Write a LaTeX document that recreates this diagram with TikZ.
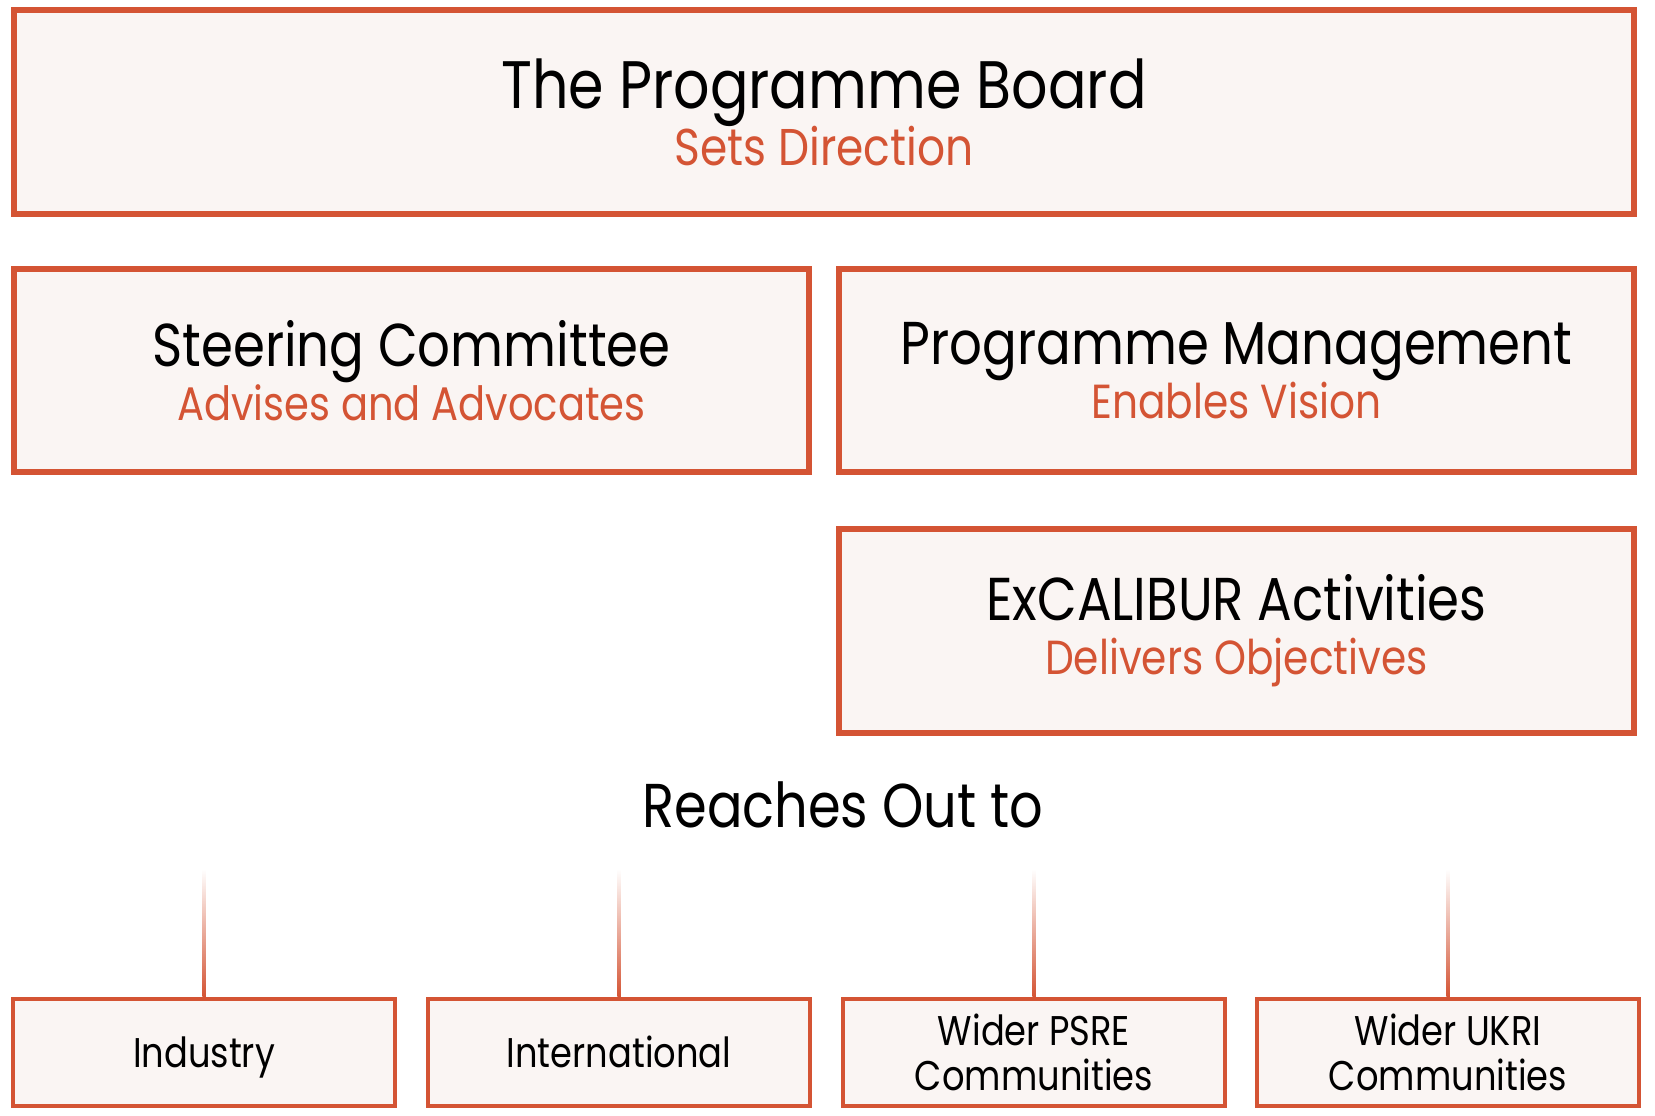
\documentclass[tikz,border=0pt]{standalone}
\usepackage{fontspec}
\setmainfont{Poppins}[FakeStretch=0.85]
\usetikzlibrary{calc}
\definecolor{accent}{RGB}{212,84,52}
\definecolor{boxfill}{RGB}{250,245,243}
\lineskiplimit=-20pt
\begin{document}
\begin{tikzpicture}[
		x=0.01cm, y=-0.01cm,
		align=center,
		bigbox/.style={draw=accent, fill=boxfill, line width=0.06cm, inner sep=0pt,
			minimum width=7.95cm, minimum height=2.03cm,
			font=\fontsize{17.2}{15.4}\selectfont},
		smallbox/.style={draw=accent, fill=boxfill, line width=0.04cm, inner sep=0pt,
			minimum width=3.82cm, minimum height=1.07cm,
			font=\fontsize{11.8}{13}\selectfont},
		oneline/.style={text height=0.85em, text depth=0pt}]
		
		\useasboundingbox (0,0) rectangle (1655,1116);
		
		% top level
		\node[bigbox, minimum width=16.2cm, minimum height=2.04cm,
			font=\fontsize{19.1}{16.2}\selectfont] (board) at (824,112)
			{The Programme Board\\{\color{accent}\fontsize{14.7}{16}\selectfont Sets Direction}};
		
		% second level
		\node[bigbox] (steering) at (411.5,370.5)
			{Steering Committee\\{\color{accent}\fontsize{13.4}{16}\selectfont Advises and Advocates}};
		\node[bigbox] (management) at (1236.5,370.5)
			{Programme Management\\{\color{accent}\fontsize{13.6}{16}\selectfont Enables Vision}};
		\node[bigbox, minimum height=2.04cm] (activities) at (1236.5,631)
			{ExCALIBUR Activities\\{\color{accent}\fontsize{13.6}{16}\selectfont Delivers Objectives}};
		
		\node[font=\fontsize{17.6}{21}\selectfont] (reach) at (843,805) {Reaches Out to};
		
		% communities
		\node[smallbox, oneline] (industry) at (204,1052.5) {Industry};
		\node[smallbox, oneline] (international) at (619,1052.5) {International};
		\node[smallbox] (psre) at (1034,1052.5) {Wider PSRE\\Communities};
		\node[smallbox] (ukri) at (1448,1052.5) {Wider UKRI\\Communities};
		
		\foreach \n in {industry,international,psre,ukri}{
			\coordinate (\n top) at ($(\n.north)+(0,-128)$);
			\shade[top color=white, bottom color=accent]
				($(\n top)+(-1.75,0)$) rectangle ($(\n.north)+(1.75,0)$);
		}
		
	\end{tikzpicture}
\end{document}
